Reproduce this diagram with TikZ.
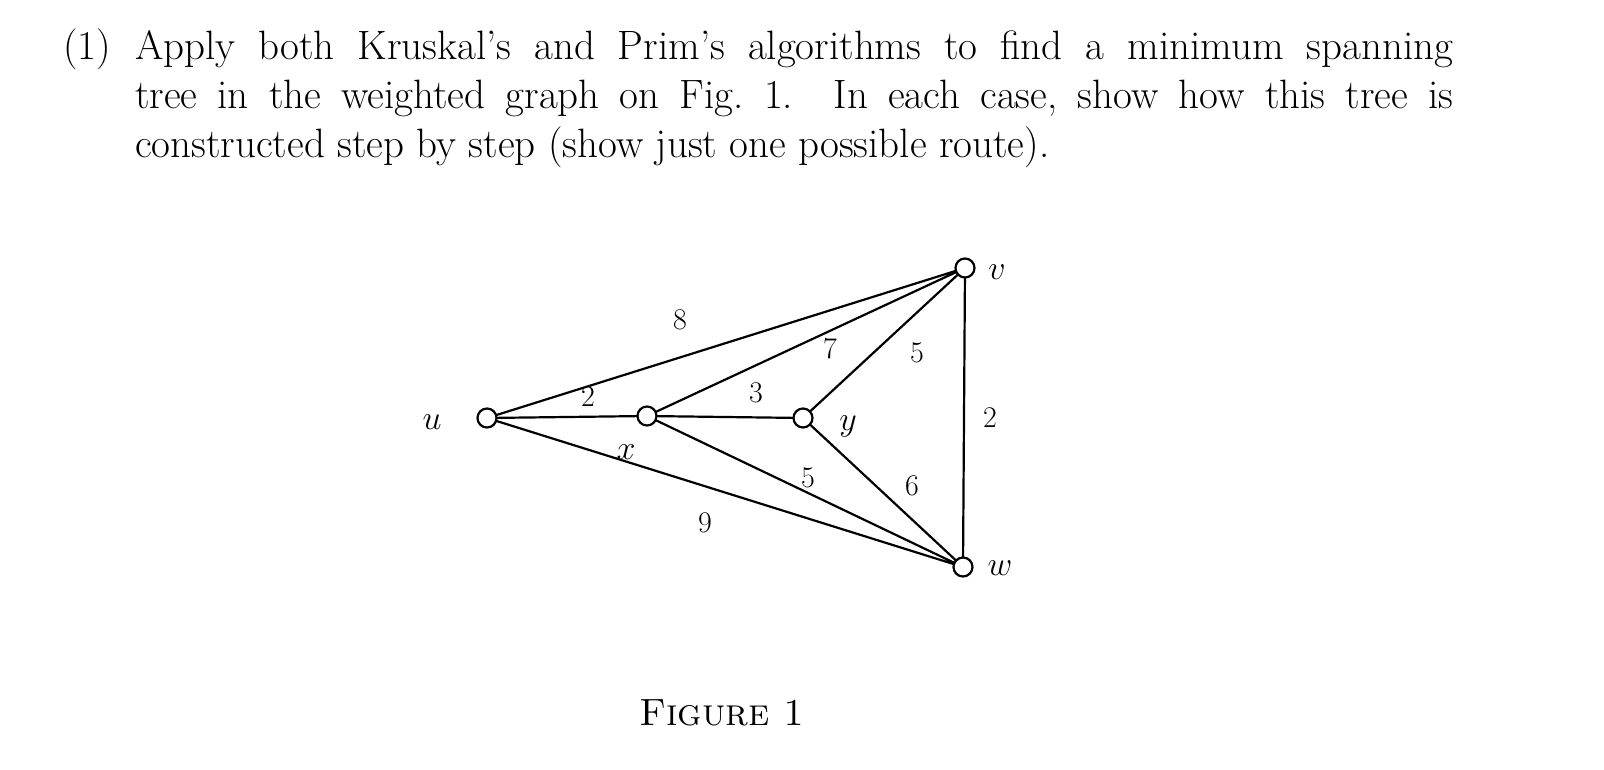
\documentclass[tikz,border=0pt]{standalone}
\usepackage{fix-cm}
\frenchspacing
\begin{document}
\begin{tikzpicture}[x=1pt,y=-1pt,
  vert/.style={circle,draw,line width=2.2pt,fill=white,minimum size=19pt,inner sep=0pt},
  edge/.style={line width=2.2pt},
  wt/.style={font=\fontsize{30}{30}\selectfont,inner sep=0pt},
  lab/.style={font=\fontsize{34}{34}\selectfont,inner sep=0pt}]
\node[anchor=base west,inner sep=0pt,font=\fontsize{41}{49}\selectfont] (num) at (63,60) {(1)};
\node[anchor=north west,inner sep=0pt,text width=1318pt,align=justify,font=\fontsize{41}{49}\selectfont] (txt) at (135,30)
 {Apply both Kruskal's and Prim's algorithms to find a minimum spanning\linebreak tree in the weighted graph on Fig.~1.\ \ In each case, show how this tree is\linebreak constructed step by step (show just one possible route).};
\node (u) at (487,418) {};
\node (x) at (647,416) {};
\node (y) at (803,418) {};
\node (v) at (965,268) {};
\node (w) at (963,567) {};
\draw[edge] (u.center)--(v.center) (u.center)--(x.center) (u.center)--(w.center)
 (x.center)--(v.center) (x.center)--(y.center) (x.center)--(w.center)
 (y.center)--(v.center) (y.center)--(w.center) (v.center)--(w.center);
\foreach \n in {u,x,y,v,w} \node[vert] at (\n) {};
\node[lab] (lu) at (432,422) {$u$};
\node[lab] (lx) at (626,452) {$x$};
\node[lab] (ly) at (848,426) {$y$};
\node[lab] (lv) at (997,272) {$v$};
\node[lab] (lw) at (1000,568) {$w$};
\node[wt] (w8) at (680,320) {8};
\node[wt] (w7) at (830,349) {7};
\node[wt] (w5a) at (917,353) {5};
\node[wt] (w2a) at (588,397) {2};
\node[wt] (w3) at (756,393) {3};
\node[wt] (w2b) at (990,418) {2};
\node[wt] (w5b) at (808,478) {5};
\node[wt] (w6) at (912,486) {6};
\node[wt] (w9) at (705,523) {9};
\node[font=\fontsize{38}{38}\selectfont,inner sep=0pt] (fig) at (722,713) {\textsc{Figure 1}};
\pgfresetboundingbox
\path[use as bounding box] (0,0) rectangle (1604,770);
\end{tikzpicture}
\end{document}
